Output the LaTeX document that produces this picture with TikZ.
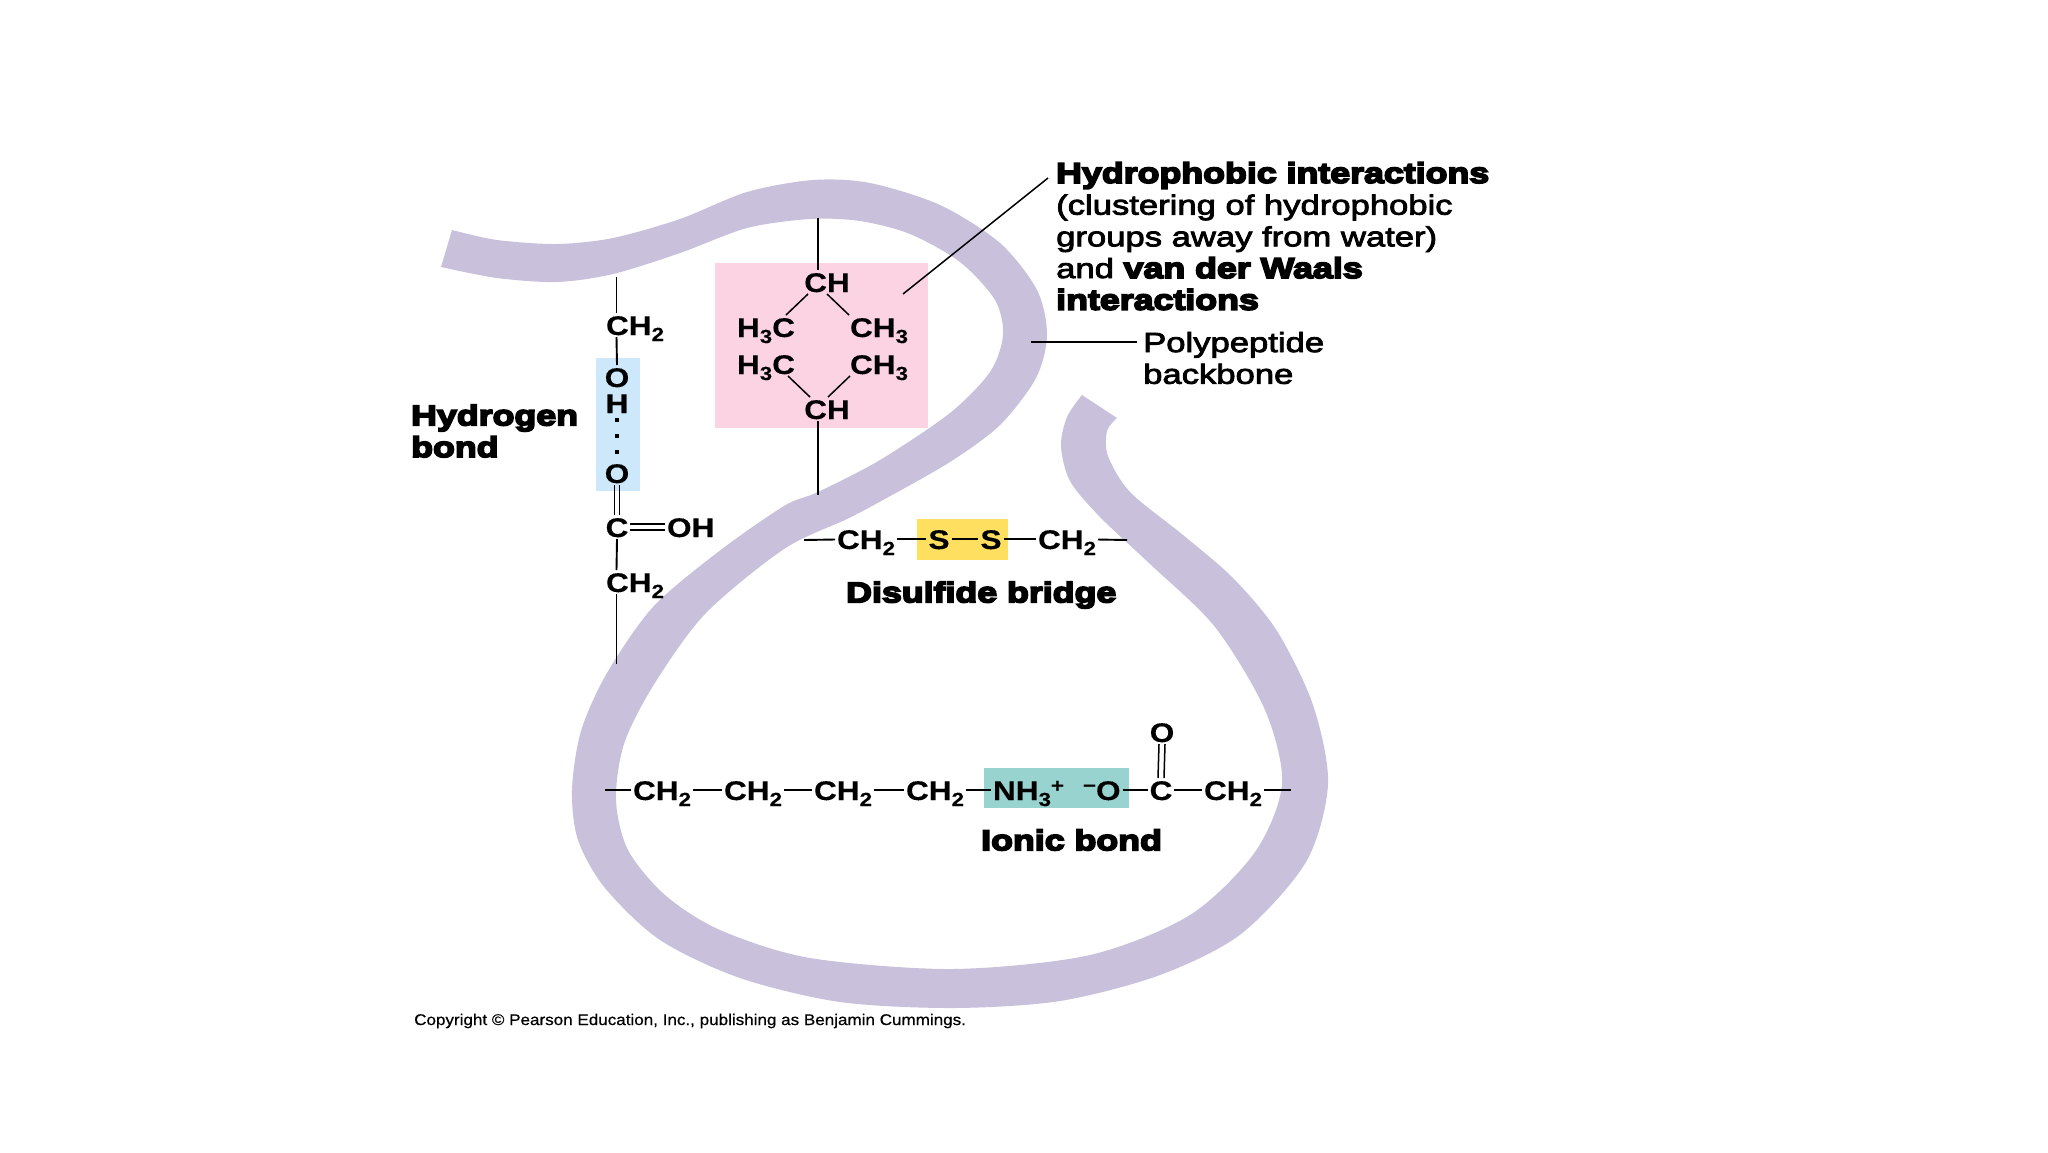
\documentclass[tikz,border=0pt]{standalone}
\usepackage{fontspec}
\newfontfamily\chemf[FakeStretch=1.17,BoldFeatures={FakeBold=0.3}]{Liberation Sans}
\newfontfamily\textf[FakeStretch=1.25,FakeBold=3]{Liberation Sans}
\newfontfamily\labf[FakeStretch=1.25,BoldFeatures={FakeBold=6}]{Liberation Sans}
\newfontfamily\copyf[FakeStretch=1.1,FakeBold=0.6]{Liberation Sans}
\newcommand\chemsub[1]{\raisebox{-6pt}{\fontsize{19}{19}\selectfont #1}}
\newcommand\chemsup[1]{\raisebox{8pt}{\fontsize{19}{19}\selectfont #1}}
\definecolor{backbone}{HTML}{C9C0DC}
\definecolor{pinkbox}{HTML}{FBD3E2}
\definecolor{bluebox}{HTML}{CDE8FA}
\definecolor{yellowbox}{HTML}{FFDF5F}
\definecolor{tealbox}{HTML}{98D3CF}
\tikzset{
  atom/.style={inner sep=0pt,outer sep=2pt,text height=20pt,text depth=0pt,anchor=west,
    font=\chemf\bfseries\fontsize{27}{27}\selectfont},
  atomc/.style={atom,anchor=center},
  bond/.style={draw=black,line width=1.9pt},
  lead/.style={draw=black,line width=1.5pt},
  hbdot/.style={rectangle,fill=black,inner sep=0pt,minimum size=4.5pt},
  lab/.style={inner sep=0pt,anchor=west,align=left,font=\labf\bfseries\fontsize{28.6}{31.7}\selectfont},
  txt/.style={inner sep=0pt,anchor=west,align=left,font=\textf\fontsize{27.7}{31.7}\selectfont},
  patch/.style={inner sep=0pt,anchor=north west},
}
\begin{document}
\begin{tikzpicture}[x=1pt,y=-1pt]
\useasboundingbox (0,0) rectangle (2048,1152);
\fill[white] (0,0) rectangle (2048,1152);
% backbone
\fill[backbone] plot[smooth] coordinates {(452,230) (497,240) (557,244) (613,238) (680,219) (747,192) (813,180) (870,183) (940,205) (1000,243) (1037,290) (1047,335) (1036,378) (1000,425) (950,462) (883,500) (847,519) (784,549) (705,614) (653,686) (624,744) (616,800) (628,850) (665,895) (720,930) (810,958) (953,969) (1090,955) (1190,915) (1255,852) (1282,784) (1265,710) (1215,627) (1150,564) (1100,517) (1070,481) (1061,446) (1067,417) (1082,395)}
 -- plot[smooth] coordinates {(1117,418) (1107,431) (1108,456) (1130,492) (1183,535) (1233,578) (1277,631) (1313,705) (1328,784) (1306,862) (1241,934) (1160,975) (1060,1001) (953,1008) (840,1002) (740,978) (660,940) (605,888) (578,840) (572,790) (581,731) (607,673) (653,607) (718,552) (784,506) (818,492) (880,460) (950,413) (990,372) (1003,335) (995,300) (960,262) (910,234) (860,221) (810,219) (747,228) (680,253) (613,274) (557,282) (497,278) (441,267)} -- cycle;
% coloured patches
\node[patch,fill=bluebox,minimum width=44pt,minimum height=133pt] (hbox) at (596,358) {};
\node[patch,fill=pinkbox,minimum width=213pt,minimum height=165pt] (pbox) at (715,263) {};
\node[patch,fill=yellowbox,minimum width=91pt,minimum height=41pt] (sbox) at (917,519) {};
\node[patch,fill=tealbox,minimum width=145pt,minimum height=40pt] (ibox) at (984,768) {};
% hydrogen bond chain
\coordinate (ltop) at (616.5,277);
\coordinate (lbot) at (616.5,664);
\node[atom] (la) at (604,325) {CH\chemsub{2}};
\node[atomc] (lo1) at (617,377) {O};
\node[atomc] (lh) at (617,403) {H};
\node[hbdot] (d1) at (617,420) {};
\node[hbdot] (d2) at (617,436) {};
\node[hbdot] (d3) at (617,452) {};
\node[atomc] (lo2) at (617,473) {O};
\node[atomc] (lc) at (617,527) {C};
\node[atom] (loh) at (665,527) {OH};
\node[atom] (lb) at (604,582) {CH\chemsub{2}};
\draw[bond] (ltop) -- ([xshift=12.5pt]la.north west);
\draw[bond] ([xshift=12.5pt]la.south west) -- (lo1.north);
\draw[bond,line width=1.5pt] ([xshift=-2.5pt]lo2.south) -- ([xshift=-2.5pt]lc.north);
\draw[bond,line width=1.5pt] ([xshift=2.5pt]lo2.south) -- ([xshift=2.5pt]lc.north);
\draw[bond,line width=1.5pt] ([yshift=-3pt]lc.east) -- ([yshift=-3pt]loh.west);
\draw[bond,line width=1.5pt] ([yshift=3pt]lc.east) -- ([yshift=3pt]loh.west);
\draw[bond] (lc.south) -- ([xshift=12.5pt]lb.north west);
\draw[bond] ([xshift=12.5pt]lb.south west) -- (lbot);
\node[lab] (hlab) at (411,431) {Hydrogen\\bond};
% hydrophobic cluster
\coordinate (ptop) at (818,218);
\coordinate (pbot) at (818,495);
\node[atomc] (c1) at (827,282) {CH};
\node[atom] (c2) at (735,327) {H\chemsub{3}C};
\node[atom] (c3) at (848,327) {CH\chemsub{3}};
\node[atom] (c4) at (735,364) {H\chemsub{3}C};
\node[atom] (c5) at (848,364) {CH\chemsub{3}};
\node[atomc] (c6) at (827,409) {CH};
\draw[bond] (ptop) -- ([xshift=-9pt]c1.north);
\draw[bond] ([xshift=-9pt]c6.south) -- (pbot);
\draw[bond,line width=1.5pt] ([xshift=-19pt]c1.south) -- ([xshift=-11pt]c2.north east);
\draw[bond,line width=1.5pt] (c1.south) -- ([xshift=1pt]c3.north west);
\draw[bond,line width=1.5pt] ([xshift=-9pt]c4.south east) -- ([xshift=-17pt]c6.north);
\draw[bond,line width=1.5pt] ([xshift=2pt]c5.south west) -- ([xshift=1pt]c6.north);
% disulfide
\coordinate (sl) at (804,540);
\coordinate (sr) at (1127,540);
\node[atom] (s1) at (835,539) {CH\chemsub{2}};
\node[atomc] (s2) at (939,539) {S};
\node[atomc] (s3) at (991,539) {S};
\node[atom] (s4) at (1036,539) {CH\chemsub{2}};
\draw[bond] (sl) -- (s1);
\draw[bond] (s1) -- (s2);
\draw[bond] (s2) -- (s3);
\draw[bond] (s3) -- (s4);
\draw[bond] (s4) -- (sr);
\node[lab] (dlab) at (846,595) {Disulfide bridge};
% ionic
\coordinate (il) at (605,790);
\coordinate (ir) at (1291,790);
\node[atom] (i1) at (631,790) {CH\chemsub{2}};
\node[atom] (i2) at (722,790) {CH\chemsub{2}};
\node[atom] (i3) at (812,790) {CH\chemsub{2}};
\node[atom] (i4) at (904,790) {CH\chemsub{2}};
\node[atom] (i5) at (991,790) {NH\chemsub{3}\chemsup{+}};
\node[atom] (i6) at (1081,790) {\chemsup{\textminus}O};
\node[atomc] (i7) at (1161,790) {C};
\node[atom] (i8) at (1202,790) {CH\chemsub{2}};
\node[atomc] (io) at (1162,732) {O};
\draw[bond] (il) -- (i1);
\draw[bond] (i1) -- (i2);
\draw[bond] (i2) -- (i3);
\draw[bond] (i3) -- (i4);
\draw[bond] (i4) -- (i5);
\draw[bond] (i6) -- (i7);
\draw[bond] (i7) -- (i8);
\draw[bond] (i8) -- (ir);
\draw[bond,line width=1.5pt] ([xshift=-3pt]io.south) -- ([xshift=-3pt]i7.north);
\draw[bond,line width=1.5pt] ([xshift=3pt]io.south) -- ([xshift=3pt]i7.north);
\node[lab] (ilab) at (981,840) {Ionic bond};
% right labels
\node[inner sep=0pt,anchor=north west,align=left,font=\textf\fontsize{27.7}{31.7}\selectfont] (hyd) at (1056,162)
  {{\labf\bfseries\fontsize{28.6}{31.7}\selectfont Hydrophobic interactions}\\
   (clustering of hydrophobic\\
   groups away from water)\\
   and {\labf\bfseries\fontsize{28.6}{31.7}\selectfont van der Waals}\\
   {\labf\bfseries\fontsize{28.6}{31.7}\selectfont interactions}};
\coordinate (hl) at (903,294);
\coordinate (hr) at (1048,178);
\draw[lead] (hl) -- (hr);
\node[txt] (pp) at (1143,358) {Polypeptide\\backbone};
\coordinate (ppl) at (1031,342);
\coordinate (ppr) at (1137,342);
\draw[lead] (ppl) -- (ppr);
\node[inner sep=0pt,anchor=west,font=\copyf\fontsize{15.5}{15.5}\selectfont] (copy) at (414,1021)
  {Copyright © Pearson Education, Inc., publishing as Benjamin Cummings.};
\end{tikzpicture}
\end{document}
